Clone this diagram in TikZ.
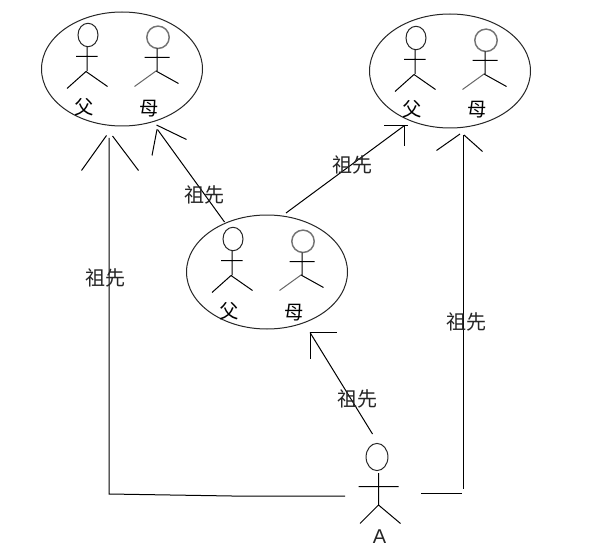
\documentclass[tikz,border=0pt]{standalone}
\usepackage{fontspec}
\setmainfont{Liberation Sans}
\newfontfamily\cjk{Noto Sans CJK SC}
\tikzset{
  x=0.75pt,y=-0.75pt,
  ln/.style={line width=0.75pt,black},
  soft/.style={line width=0.75pt,black!60},
  group/.style={draw=black!85,line width=0.75pt,ellipse,minimum width=120.75pt,minimum height=85.5pt,inner sep=0pt},
  tag/.style={inner sep=0pt,font=\cjk\fontsize{14.5}{15}\selectfont},
  rel/.style={inner sep=0pt,text=black!85,font=\cjk\fontsize{15}{16}\selectfont},
  father/.pic={
    \draw[ln,black!85] (88,35) ellipse [x radius=7.5pt,y radius=8.8pt];
    \draw[ln] (87,47) -- (87,71) (76,56.5) -- (97.5,56.5) (86,71.5) -- (67,88.5) (86,71.5) -- (107.5,86.5);
  },
  mother/.pic={
    \draw[line width=1.1pt,black!55] (158,37.3) circle [radius=8.4pt];
    \draw[ln] (157,48.5) -- (157,71) (144.5,57.5) -- (169.5,57.5) (156,71) -- (178.5,83.5);
    \draw[soft] (156,71) -- (134.5,86.5);
  }
}
\usetikzlibrary{shapes.geometric}
\begin{document}
\begin{tikzpicture}
\useasboundingbox (0,0) rectangle (610,549);
\fill[white] (0,0) rectangle (610,549);
% groups
\node[group] (g1) at (122,69) {};
\node[group] (g2) at (450,71) {};
\node[group] (g3) at (267,272) {};
\pic at (0,0) {father}; \pic at (0,0) {mother};
\pic at (328,3) {father}; \pic at (328,3) {mother};
\pic at (145,204) {father}; \pic at (145,204) {mother};
\node[tag] (f1) at (84.5,107.5) {父};
\node[tag] (m1) at (149.5,108.5) {母};
\node[tag] (f2) at (412.5,109) {父};
\node[tag] (m2) at (477.5,110) {母};
\node[tag] (f3) at (229.5,311.5) {父};
\node[tag] (m3) at (294.5,312.5) {母};
% person A
\draw[ln,black!85] (377,457) ellipse [x radius=8.2pt,y radius=10.2pt];
\draw[ln] (378.5,473) -- (378.5,505) (358.5,486.5) -- (398.5,486.5) (378.5,505) -- (360,523.5) (378.5,505) -- (400.5,523.5);
\node[inner sep=0pt,font=\fontsize{15}{16}\selectfont,text=black!85] (pa) at (379.5,537) {A};
% connector ends
\coordinate (a) at (345,496);
\coordinate (b) at (109,494);
\coordinate (c) at (109,138);
\coordinate (d) at (224.5,222);
\coordinate (e) at (157.5,129.5);
\coordinate (h) at (286,213);
\coordinate (i) at (404.5,125.5);
\coordinate (j) at (421,493);
\coordinate (k) at (463.5,493);
\coordinate (l) at (463.5,135);
\coordinate (n) at (372.5,434);
\coordinate (o) at (310,332.5);
% connectors
\draw[ln] (a) -- (232,496) -- (b) -- (c);
\draw[ln] (106.5,135.5) -- (81.5,170.5) (112.5,136) -- (138.5,170.5);
\draw[ln] (d) -- (e);
\draw[ln] (156.5,125) -- (186.5,139.5) (157,129.5) -- (152,155.5);
\draw[ln] (h) -- (i);
\draw[ln] (384,125.5) -- (407.5,125.5) (i) -- (404.5,146);
\draw[ln] (j) -- (462,493);
\draw[ln] (463.5,488.5) -- (l);
\draw[ln] (460,134) -- (436.5,150.5) (464,135) -- (482.5,151.5);
\draw[ln] (n) -- (o);
\draw[ln] (o) -- (336.5,332.5) (o) -- (310,359);
% labels
\node[rel] (r1) at (105,278) {祖先};
\node[rel] (r2) at (204,195) {祖先};
\node[rel] (r3) at (352,165) {祖先};
\node[rel] (r4) at (357,399) {祖先};
\node[rel] (r5) at (466,322) {祖先};
\end{tikzpicture}
\end{document}
